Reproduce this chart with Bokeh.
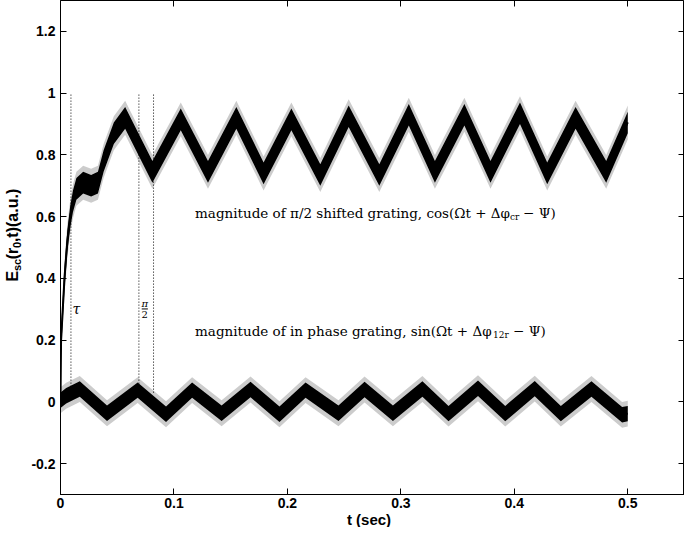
import numpy as np
from bokeh.plotting import figure
from bokeh.layouts import row, column
from bokeh.models import LinearAxis, FixedTicker, Range1d
from bokeh.embed import file_html
from bokeh.resources import INLINE
from bokeh.core.properties import value

# ---- data ----
# magnitude of pi/2 shifted grating (upper band), band centre
cos_t = [0.0, 0.0005, 0.0035, 0.006, 0.0086, 0.011, 0.014, 0.020, 0.027, 0.033,
         0.038, 0.047, 0.057, 0.081, 0.106, 0.130, 0.155, 0.179, 0.2035, 0.229,
         0.254, 0.281, 0.307, 0.330, 0.356, 0.379, 0.405, 0.429, 0.454, 0.481, 0.500]
cos_v = [0.0, 0.20, 0.40, 0.52, 0.60, 0.65, 0.69, 0.71, 0.70, 0.71,
         0.78, 0.87, 0.92, 0.745, 0.915, 0.745, 0.92, 0.74, 0.915, 0.735,
         0.925, 0.735, 0.93, 0.745, 0.93, 0.745, 0.935, 0.74, 0.92, 0.745, 0.905]
cos_noise = 0.035   # half thickness of the dense noisy band
cos_spikes = 0.055  # half reach of the sparse noise spikes

# magnitude of in-phase grating (lower band), band centre
sin_t = [0.0, 0.005, 0.017, 0.041, 0.068, 0.093, 0.116, 0.142, 0.1675, 0.193,
         0.216, 0.245, 0.268, 0.293, 0.319, 0.342, 0.368, 0.392, 0.418, 0.441,
         0.468, 0.495, 0.500]
sin_v = [0.005, 0.02, 0.042, -0.037, 0.038, -0.040, 0.038, -0.037, 0.040, -0.040,
         0.038, -0.037, 0.040, -0.037, 0.042, -0.038, 0.044, -0.038, 0.043, -0.038,
         0.042, -0.042, -0.038]
sin_noise = 0.025
sin_spikes = 0.042

# dotted marker lines (tau, and the pi/2 shift)
marker_t = [0.0092, 0.0691, 0.0820]
marker_top = [1.0, 1.0, 1.0]
marker_bottom = [0.03, 0.03, 0.03]

x_ticks = [0, 0.1, 0.2, 0.3, 0.4, 0.5]
x_tick_labels = ["0", "0.1", "0.2", "0.3", "0.4", "0.5"]
y_ticks = [-0.2, 0, 0.2, 0.4, 0.6, 0.8, 1.0, 1.2]
y_tick_labels = ["-0.2", "0", "0.2", "0.4", "0.6", "0.8", "1", "1.2"]
x_label = "t (sec)"

TICK_FONT = "Liberation Sans"
SERIF = "DejaVu Serif"

TOTAL_W, TOTAL_H = 684, 527   # window minus the 8px page margin on every side
LAB_W = 28      # strip holding the y-axis label
XLAB_H = 17     # strip holding the x-axis label
H = TOTAL_H - XLAB_H
BORDER_L = 25
XMIN, XMAX = 0, 0.55
YMIN, YMAX = -0.3, 1.3

# ---------------- main plot ----------------
p = figure(width=TOTAL_W - LAB_W, height=H, x_range=Range1d(XMIN, XMAX), y_range=Range1d(YMIN, YMAX),
           output_backend="svg", toolbar_location=None,
           min_border_left=BORDER_L, min_border_right=0, min_border_top=0, min_border_bottom=0)
p.background_fill_color = "white"
p.border_fill_color = "white"
p.outline_line_color = "black"
p.outline_line_width = 1
p.xgrid.visible = False
p.ygrid.visible = False


def style_axis(ax, ticks, labels, show_labels=True, tick_in=6, tick_out=0):
    ax.ticker = FixedTicker(ticks=ticks)
    ax.major_tick_in = tick_in
    ax.major_tick_out = tick_out
    ax.minor_tick_line_color = None
    ax.axis_line_color = "black"
    ax.major_tick_line_color = "black"
    if show_labels:
        ax.major_label_overrides = {t: l for t, l in zip(ticks, labels)}
        ax.major_label_text_font = TICK_FONT
        ax.major_label_text_font_style = "bold"
        ax.major_label_text_font_size = "14px"
        ax.major_label_text_color = "black"
    else:
        ax.major_label_overrides = {t: "" for t in ticks}
        ax.major_label_text_font_size = "1px"
        ax.major_label_standoff = 0
        ax.axis_label_standoff = 0


style_axis(p.xaxis[0], x_ticks, x_tick_labels)
p.xaxis[0].major_label_standoff = 3
style_axis(p.yaxis[0], y_ticks, y_tick_labels)
p.yaxis[0].major_label_standoff = 5

# mirrored tick marks on the top and right edges of the box
top_ax = LinearAxis(fixed_location=YMAX)
style_axis(top_ax, x_ticks, x_tick_labels, show_labels=False)
p.add_layout(top_ax, "above")
right_ax = LinearAxis(fixed_location=XMAX)
style_axis(right_ax, y_ticks, y_tick_labels, show_labels=False, tick_in=0, tick_out=6)
p.add_layout(right_ax, "left")

# dotted markers
p.segment(x0=marker_t, y0=marker_bottom, x1=marker_t, y1=marker_top,
          line_color="black", line_width=1, line_dash="1 2")

# noisy bands
cv = np.array(cos_v)
sv = np.array(sin_v)
p.varea(x=cos_t, y1=cv - cos_spikes, y2=cv + cos_spikes, fill_color="black", fill_alpha=0.2)
p.varea(x=sin_t, y1=sv - sin_spikes, y2=sv + sin_spikes, fill_color="black", fill_alpha=0.2)
p.varea(x=cos_t, y1=cv - cos_noise, y2=cv + cos_noise, fill_color="black")
p.varea(x=sin_t, y1=sv - sin_noise, y2=sv + sin_noise, fill_color="black")
p.line(x=cos_t, y=cos_v, line_color="black", line_width=2)
p.line(x=sin_t, y=sin_v, line_color="black", line_width=2)

# tau and pi/2 annotations
serif = value(SERIF)
p.text(x=[0.0106], y=[0.30], text=["τ"], text_font=serif, text_font_style="italic",
       text_font_size="14px", text_align="left", text_baseline="middle", text_color="black")
p.text(x=[0.0743], y=[0.318], text=["π"], text_font=serif, text_font_style="italic",
       text_font_size="10px", text_align="center", text_baseline="middle", text_color="black")
p.text(x=[0.0743], y=[0.283], text=["2"], text_font=serif,
       text_font_size="10px", text_align="center", text_baseline="middle", text_color="black")
p.segment(x0=[0.0716], y0=[0.301], x1=[0.0770], y1=[0.301], line_color="black", line_width=1)


# curve descriptions
def math_text(x, y, main, sub, tail, w_main, w_sub, size="13.5px"):
    kw = dict(text_font=serif, text_color="black", text_baseline="middle", text_align="left")
    p.text(x=[x], y=[y], text=[main], text_font_size=size, **kw)
    p.text(x=[x], y=[y], x_offset=w_main + 1, y_offset=4, text=[sub], text_font_size="9px", **kw)
    p.text(x=[x], y=[y], x_offset=w_main + w_sub + 5, text=[tail], text_font_size=size, **kw)


math_text(0.1186, 0.611, "magnitude of π/2 shifted grating, cos(Ωt + Δφ", "cr", "− Ψ)", 314, 9)
math_text(0.1186, 0.228, "magnitude of in phase grating, sin(Ωt + Δφ", "12r", "− Ψ)", 297, 16)

# ---------------- y-axis label strip ----------------
lab = figure(width=LAB_W, height=H, x_range=Range1d(0, LAB_W), y_range=Range1d(0, H),
             output_backend="svg", toolbar_location=None, min_border=0,
             x_axis_location=None, y_axis_location=None)
lab.outline_line_color = None
lab.xgrid.visible = False
lab.ygrid.visible = False
lab.background_fill_color = "white"
lab.border_fill_color = "white"

# pieces of "E_sc(r_0,t)(a.u.)", written upward (positions in strip pixels)
ylab_main_text = ["E", "(r", ",t)(a.u.)"]
ylab_main_y = [220, 242.9, 260.6]
ylab_sub_text = ["sc", "0"]
ylab_sub_y = [230.7, 254.5]
lab.text(x=[12] * 3, y=ylab_main_y, text=ylab_main_text, angle=np.pi / 2,
         text_font=value(TICK_FONT), text_font_style="bold", text_font_size="16px",
         text_align="left", text_baseline="alphabetic", text_color="black")
lab.text(x=[16] * 2, y=ylab_sub_y, text=ylab_sub_text, angle=np.pi / 2,
         text_font=value(TICK_FONT), text_font_style="bold", text_font_size="11px",
         text_align="left", text_baseline="alphabetic", text_color="black")

# ---------------- x-axis label strip ----------------
xlab = figure(width=TOTAL_W, height=XLAB_H, x_range=Range1d(0, TOTAL_W), y_range=Range1d(0, XLAB_H),
              output_backend="svg", toolbar_location=None, min_border=0,
              x_axis_location=None, y_axis_location=None)
xlab.outline_line_color = None
xlab.xgrid.visible = False
xlab.ygrid.visible = False
xlab.background_fill_color = "white"
xlab.border_fill_color = "white"
frame_centre = LAB_W + BORDER_L + (TOTAL_W - LAB_W - BORDER_L) / 2
xlab.text(x=[frame_centre], y=[XLAB_H / 2], text=[x_label], text_font=value(TICK_FONT),
          text_font_style="bold", text_font_size="15px", text_align="center",
          text_baseline="middle", text_color="black")

layout = column(row(lab, p), xlab, spacing=0)
open("out.html", "w").write(file_html(layout, INLINE))
